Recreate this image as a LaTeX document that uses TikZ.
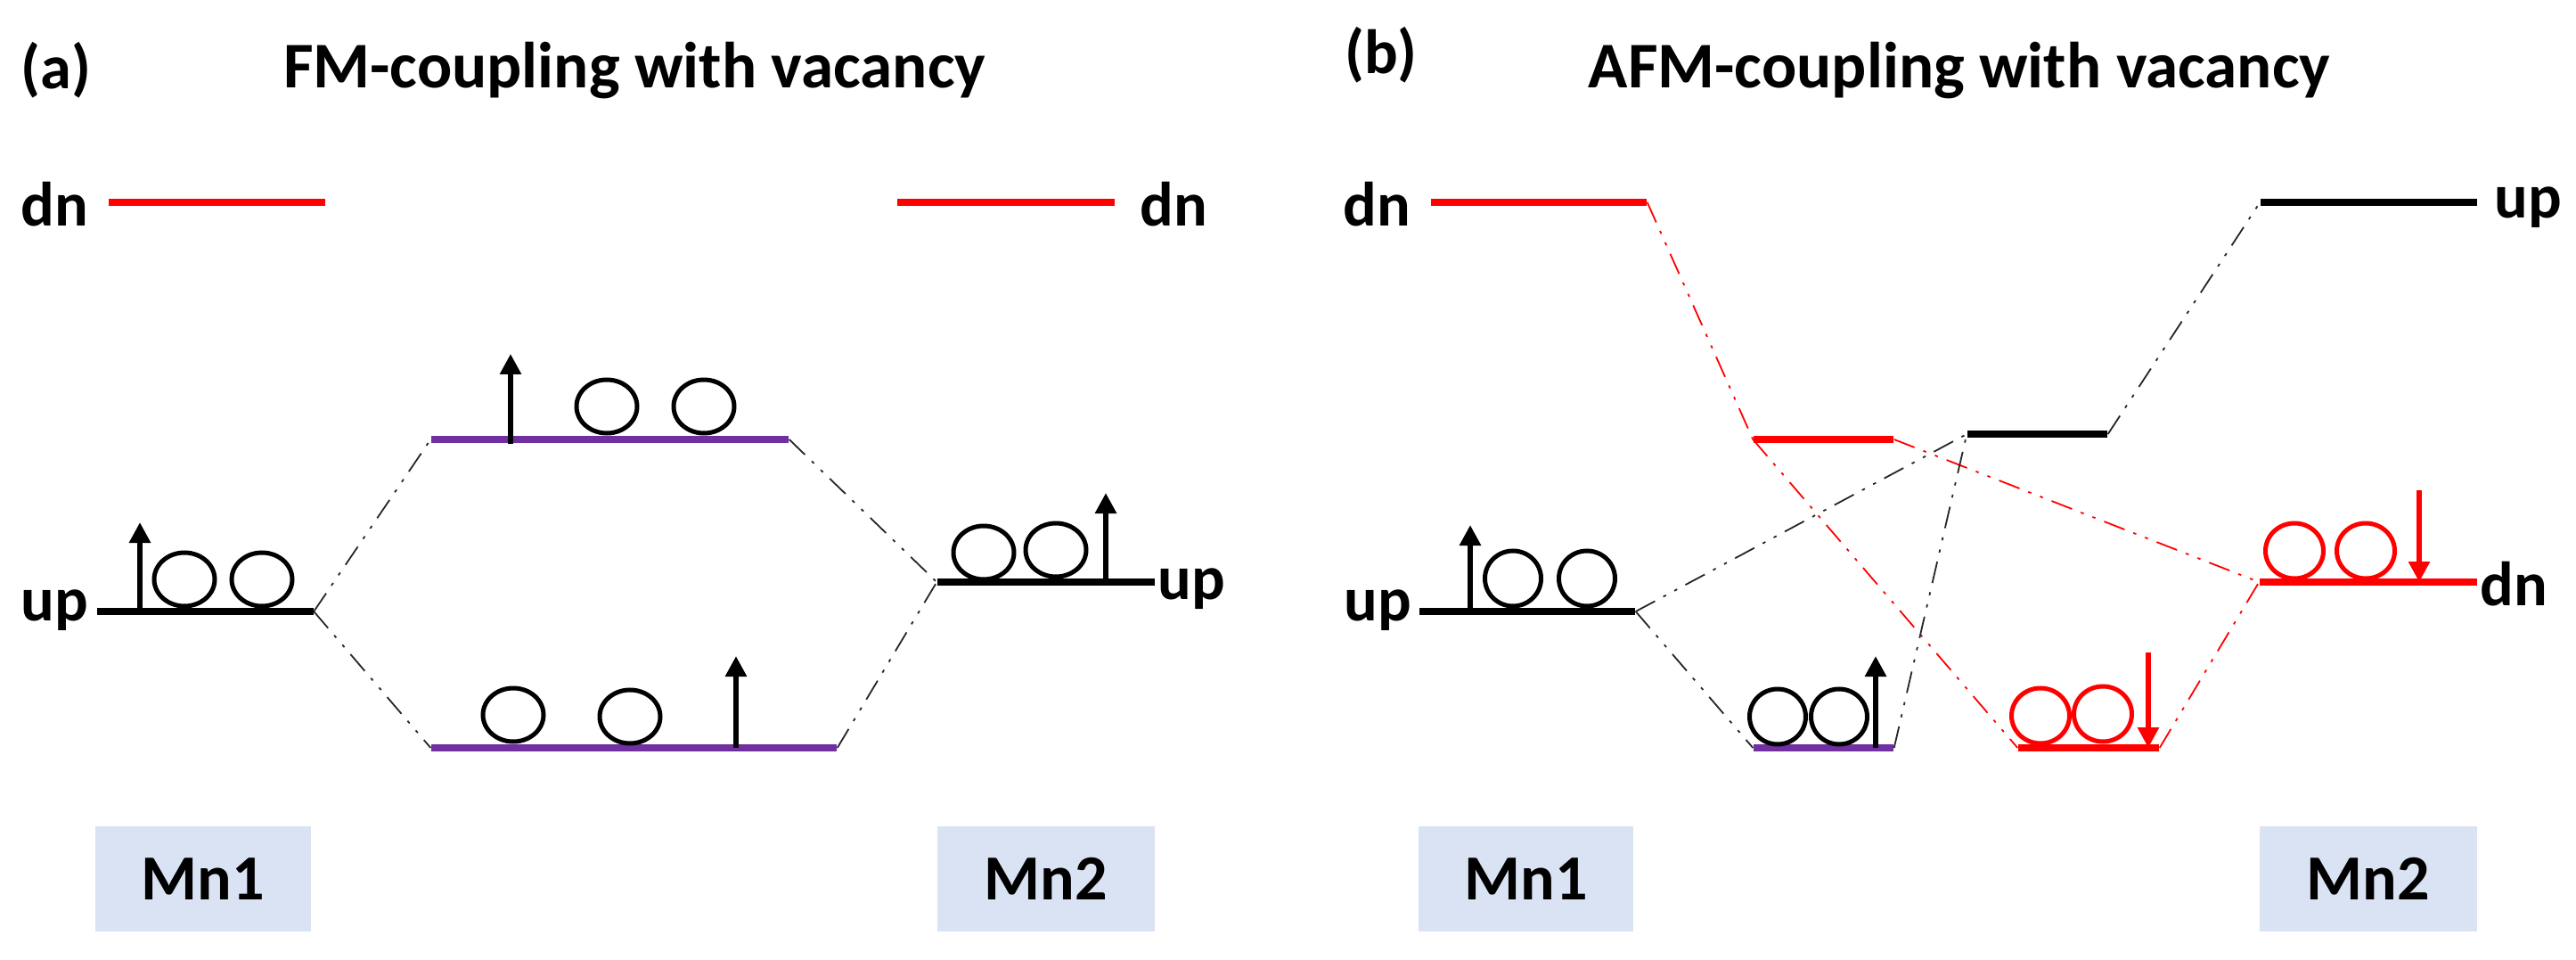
\documentclass[tikz,border=0pt]{standalone}
\usepackage{fontspec}
\setmainfont{Carlito}
\usetikzlibrary{arrows.meta,shapes.geometric}
\definecolor{level_purple}{HTML}{7030A0}
\definecolor{site_blue}{HTML}{DAE3F3}

\begin{document}
\begin{tikzpicture}[
                    title_text/.style={font=\fontsize{20.8}{25}\selectfont\bfseries, inner sep=0pt},
                    label_text/.style={font=\fontsize{20}{24}\selectfont\bfseries, inner sep=0pt},
                    site_box/.style={fill=site_blue, minimum height=1.18cm, inner sep=0pt, font=\fontsize{20.5}{24}\selectfont\bfseries},
                    black_level/.style={fill=black, minimum height=0.08cm, inner sep=0pt},
                    red_level/.style={fill=red, minimum height=0.08cm, inner sep=0pt},
                    purple_level/.style={fill=level_purple, minimum height=0.08cm, inner sep=0pt},
                    black_elec/.style={ellipse, draw=black, line width=0.05cm, minimum width=0.68cm, minimum height=0.6cm, inner sep=0pt},
                    narrow_elec/.style={ellipse, draw=black, line width=0.05cm, minimum width=0.63cm, minimum height=0.62cm, inner sep=0pt},
                    red_elec/.style={ellipse, draw=red, line width=0.05cm, minimum width=0.65cm, minimum height=0.62cm, inner sep=0pt},
                    spin_arrow/.style={line width=0.065cm, -{Triangle[length=0.23cm,width=0.23cm]}},
                    black_link/.style={draw=black!85, line width=0.018cm, dash pattern=on 7pt off 3pt on 1pt off 3pt on 1pt off 3pt},
                    red_link/.style={draw=red, line width=0.018cm, dash pattern=on 7pt off 3pt on 1pt off 3pt on 1pt off 3pt}
                ]
    \useasboundingbox (0,0) rectangle (28.91,-10.77);

    % panel (a)
    \node[label_text] (a_tag) at (0.63,-0.79) {(a)};
    \node[title_text] (a_title) at (7.12,-0.79) {FM-coupling with vacancy};
    \node[red_level, minimum width=2.43cm] (a_dn1) at (2.43,-2.27) {};
    \node[red_level, minimum width=2.44cm] (a_dn2) at (11.29,-2.27) {};
    \node[label_text] (a_dn1_text) at (0.61,-2.29) {dn};
    \node[label_text] (a_dn2_text) at (13.17,-2.29) {dn};
    \node[black_level, minimum width=2.43cm] (a_up1) at (2.30,-6.86) {};
    \node[black_level, minimum width=2.44cm] (a_up2) at (11.74,-6.53) {};
    \node[label_text] (a_up1_text) at (0.61,-6.85) {up};
    \node[label_text] (a_up2_text) at (13.37,-6.61) {up};
    \node[purple_level, minimum width=4.01cm] (a_top) at (6.845,-4.93) {};
    \node[purple_level, minimum width=4.55cm] (a_bot) at (7.115,-8.39) {};
    \node[site_box, minimum width=2.42cm] (a_mn1) at (2.28,-9.86) {Mn1};
    \node[site_box, minimum width=2.44cm] (a_mn2) at (11.74,-9.86) {Mn2};

    \node[black_elec] (a_e1) at (2.07,-6.50) {};
    \node[black_elec] (a_e2) at (2.94,-6.50) {};
    \node[black_elec] (a_e3) at (6.81,-4.56) {};
    \node[black_elec] (a_e4) at (7.90,-4.56) {};
    \node[black_elec] (a_e5) at (5.76,-8.02) {};
    \node[black_elec] (a_e6) at (7.07,-8.04) {};
    \node[black_elec] (a_e7) at (11.04,-6.20) {};
    \node[black_elec] (a_e8) at (11.85,-6.17) {};

    \coordinate (a_tip1) at (1.57,-5.86);
    \coordinate (a_tip2) at (5.73,-3.97);
    \coordinate (a_tip3) at (8.26,-7.36);
    \coordinate (a_tip4) at (12.41,-5.53);
    \draw[spin_arrow] (a_tip1 |- a_up1.center) -- (a_tip1);
    \draw[spin_arrow] (a_tip2 |- a_top.south) -- (a_tip2);
    \draw[spin_arrow] (a_tip3 |- a_bot.center) -- (a_tip3);
    \draw[spin_arrow] (a_tip4 |- a_up2.center) -- (a_tip4);

    \draw[black_link] (a_up1.east) -- (a_top.west);
    \draw[black_link] (a_up1.east) -- (a_bot.west);
    \draw[black_link] (a_top.east) -- (a_up2.west);
    \draw[black_link] (a_bot.east) -- (a_up2.west);

    % panel (b)
    \node[label_text] (b_tag) at (15.50,-0.62) {(b)};
    \node[title_text] (b_title) at (21.99,-0.79) {AFM-coupling with vacancy};
    \node[red_level, minimum width=2.42cm] (b_dn1) at (17.27,-2.27) {};
    \node[black_level, minimum width=2.43cm] (b_up2) at (26.585,-2.27) {};
    \node[label_text] (b_dn1_text) at (15.45,-2.29) {dn};
    \node[label_text] (b_up2_text) at (28.37,-2.33) {up};
    \node[red_level, minimum width=1.57cm] (b_rmid) at (20.465,-4.93) {};
    \node[black_level, minimum width=1.57cm] (b_kmid) at (22.865,-4.87) {};
    \node[black_level, minimum width=2.42cm] (b_up1) at (17.14,-6.86) {};
    \node[red_level, minimum width=2.44cm] (b_dn2) at (26.58,-6.53) {};
    \node[label_text] (b_up1_text) at (15.46,-6.85) {up};
    \node[label_text] (b_dn2_text) at (28.21,-6.55) {dn};
    \node[purple_level, minimum width=1.57cm] (b_pbot) at (20.465,-8.39) {};
    \node[red_level, minimum width=1.58cm] (b_rbot) at (23.44,-8.39) {};
    \node[site_box, minimum width=2.41cm] (b_mn1) at (17.125,-9.86) {Mn1};
    \node[site_box, minimum width=2.44cm] (b_mn2) at (26.58,-9.86) {Mn2};

    \node[narrow_elec] (b_e1) at (16.98,-6.49) {};
    \node[narrow_elec] (b_e2) at (17.81,-6.49) {};
    \node[narrow_elec] (b_e3) at (19.95,-8.04) {};
    \node[narrow_elec] (b_e4) at (20.64,-8.04) {};
    \node[red_elec] (b_e5) at (22.90,-8.03) {};
    \node[red_elec] (b_e6) at (23.60,-8.01) {};
    \node[red_elec] (b_e7) at (25.75,-6.18) {};
    \node[red_elec] (b_e8) at (26.55,-6.18) {};

    \coordinate (b_tip1) at (16.50,-5.89);
    \coordinate (b_tip2) at (21.05,-7.36);
    \coordinate (b_tail1) at (24.11,-7.32);
    \coordinate (b_tail2) at (27.15,-5.50);
    \draw[spin_arrow] (b_tip1 |- b_up1.center) -- (b_tip1);
    \draw[spin_arrow] (b_tip2 |- b_pbot.center) -- (b_tip2);
    \draw[spin_arrow, red] (b_tail1) -- (b_tail1 |- b_rbot.center);
    \draw[spin_arrow, red] (b_tail2) -- (b_tail2 |- b_dn2.center);

    \draw[red_link] (b_dn1.east) -- (b_rmid.west);
    \draw[red_link] (b_rmid.west) -- (b_rbot.west);
    \draw[red_link] (b_rmid.east) -- (b_dn2.west);
    \draw[red_link] (b_rbot.east) -- (b_dn2.west);
    \draw[black_link] (b_up1.east) -- (b_kmid.west);
    \draw[black_link] (b_up1.east) -- (b_pbot.west);
    \draw[black_link] (b_pbot.east) -- (b_kmid.west);
    \draw[black_link] (b_kmid.east) -- (b_up2.west);
\end{tikzpicture}
\end{document}
